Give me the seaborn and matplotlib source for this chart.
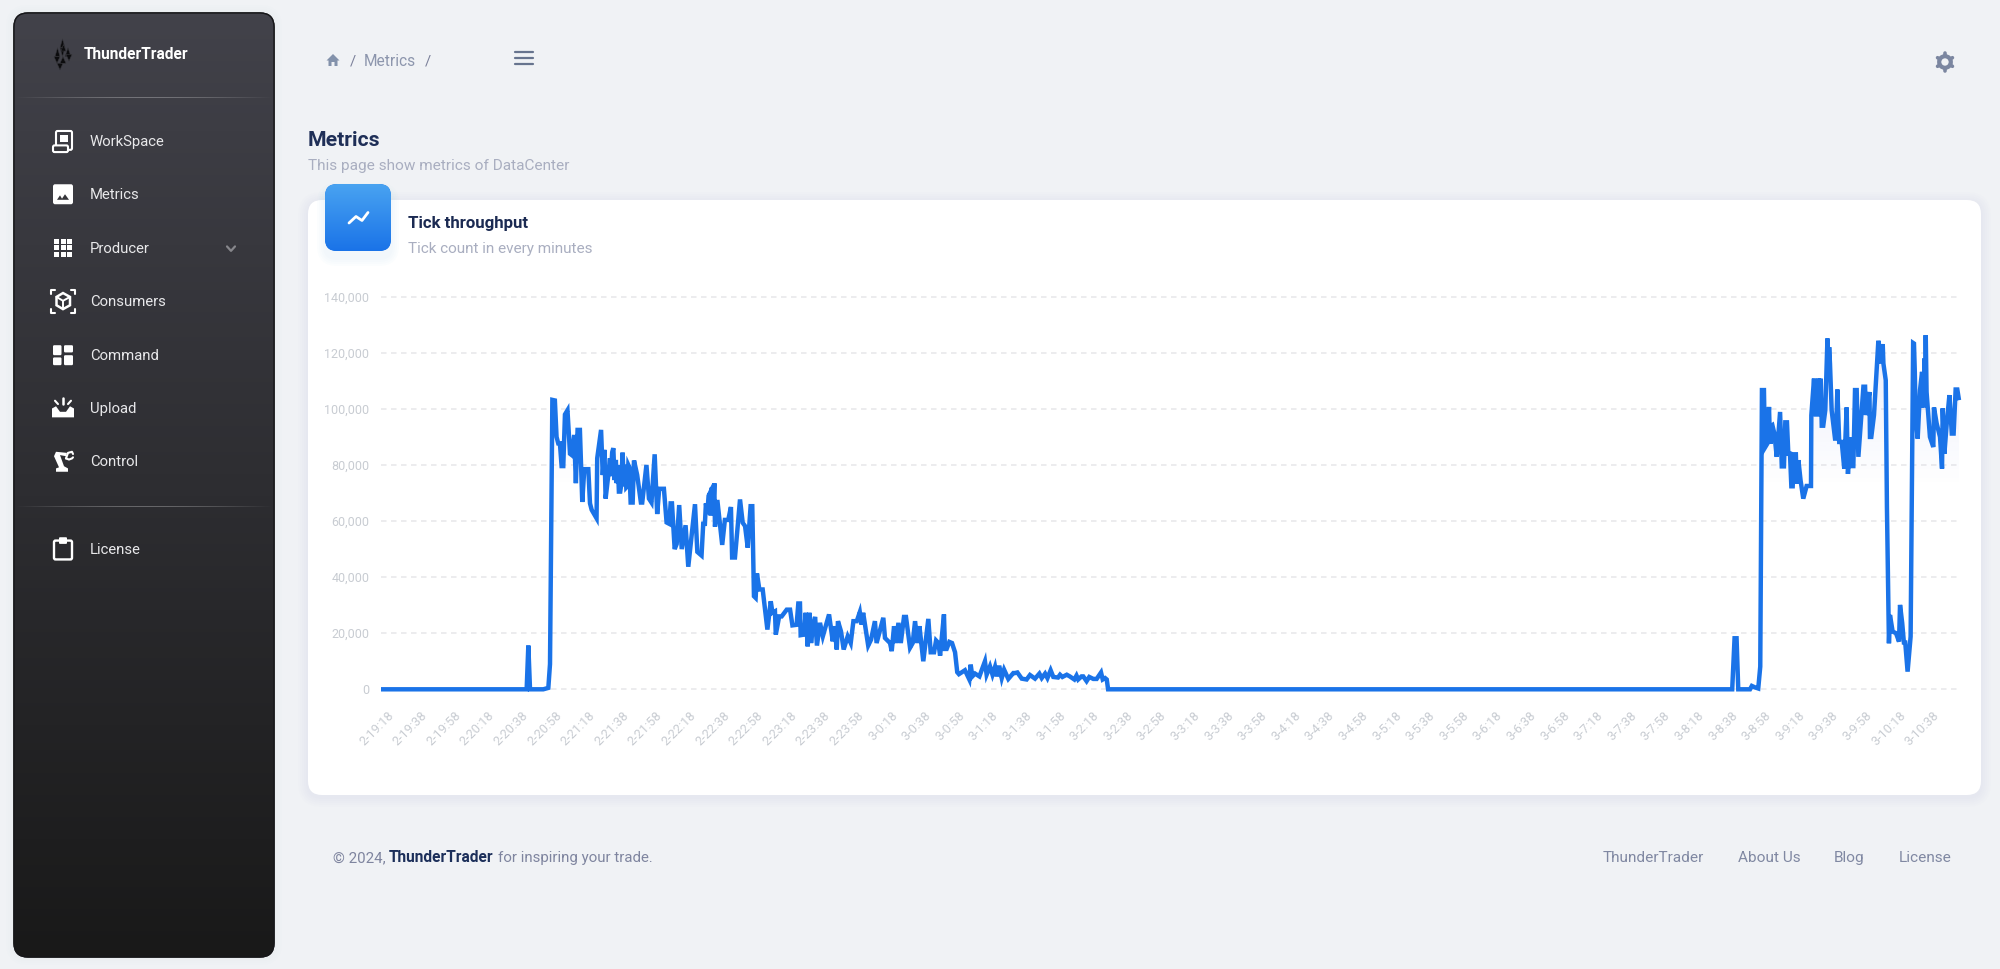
import seaborn as sns
import pandas as pd
import numpy as np
import matplotlib.pyplot as plt
from matplotlib.patches import FancyBboxPatch, Polygon, Circle, Rectangle
from matplotlib.colors import LinearSegmentedColormap
from matplotlib.ticker import FuncFormatter
from matplotlib.transforms import ScaledTranslation

# minutes since the first label
minutes = [0, 86.7, 87.7, 88.7, 96.6, 99.6, 100.6, 102, 103.5, 104.5, 105.5, 106.5, 107.5, 108.5, 109.5, 111, 112.5,
           113.6, 115, 116, 117, 118.4, 119.8, 121, 123.4, 124.4, 125.4, 128.3, 128.7, 131, 132, 133, 133.7, 135.3,
           136.3, 138.3, 139, 139.8, 141.6, 142.4, 143.8, 144.6, 145.4, 146.6, 147.8, 148.6, 149.8, 150.6, 152.5,
           153.7, 154.7, 155.5, 158, 159.5, 161, 162.9, 164.4, 165.6, 168.4, 170, 171.6, 172.4, 173.2, 174.8, 176,
           177.5, 179, 181.3, 182.9, 186.9, 188.3, 190.8, 191.8, 192.8, 193.4, 195.8, 196.2, 198.4, 198.8, 200.2,
           203.1, 204.7, 206.7, 208.3, 209, 210.7, 213.7, 215.3, 216.7, 218.3, 220, 221, 222, 223, 223.8, 225.2,
           227.2, 230, 232, 233, 234.5, 235, 237, 238.5, 241.5, 243.5, 244.9, 247.4, 248.4, 249.4, 249.8, 251.8,
           252.8, 254, 255, 256, 257.4, 258.4, 259.5, 261.3, 263, 264.7, 266.7, 268.9, 269.9, 271.3, 272, 273.8,
           275.4, 277.8, 279.6, 281.2, 283.2, 285, 286, 287, 290, 291.7, 294, 295, 296.6, 299, 300, 303, 304, 305.4,
           306.6, 308, 309.4, 311.3, 312.5, 314.9, 316.5, 317.9, 319.3, 320.5, 322.8, 325.8, 327.2, 329.2, 330.4,
           331.8, 332.8, 335.1, 335.7, 336.7, 338.3, 339.9, 341.7, 343, 344, 347.6, 350.2, 351, 352, 353.6, 356.2,
           359.5, 360.5, 362.5, 364, 365.5, 366.5, 368, 369.5, 370.9, 373.4, 376.4, 377.4, 378.8, 381.4, 384.3,
           386.3, 389.3, 391.9, 393.3, 395.3, 396.7, 398.6, 400.2, 403, 404.2, 405.6, 408.2, 410, 412.7, 414, 415,
           417, 418, 420, 421.6, 424, 426, 427, 428.6, 429.6, 431, 432, 432.8, 804.3, 805.7, 806.9, 807.9, 814.9,
           816, 817.8, 819.8, 821, 822, 823.2, 824, 825.2, 826.2, 827.2, 828.2, 829.4, 830.8, 832.8, 833.8, 835.1,
           835.9, 836.9, 837.7, 838.7, 839.5, 840.3, 841.1, 842.2, 842.7, 843.7, 845, 846.6, 848.6, 851.2, 851.4,
           853, 854, 855, 855.6, 857, 857.6, 858.5, 859.7, 861, 862.5, 863.5, 865.5, 866, 866.9, 868, 869.5, 871,
           872.4, 873.2, 874.4, 875.2, 876.4, 877.4, 878.4, 879.4, 882.4, 883.4, 883.8, 886, 886.3, 887.1, 888.7,
           891.3, 892.7, 893.9, 894.3, 895.7, 896.4, 897.6, 898.2, 899.8, 901.8, 903.6, 904.2, 905.5, 906.5, 907.3,
           908.7, 910.5, 912, 912.5, 913.5, 914.7, 916.1, 917.3, 918.3, 919.5, 920, 922, 924, 924.4, 926, 928, 929.2,
           929.6, 930.6, 932, 933.6, 935, 936.1, 937.3, 938.3, 939.3]

tick_count = [0, 0, 15600, 0, 0, 500, 9000, 103200, 103000, 90000, 87700, 87700, 79600, 79600, 98000, 99500, 84000,
              83500, 90700, 73500, 92500, 92500, 66800, 78500, 78500, 66300, 64000, 61000, 82400, 92500, 76400, 85400,
              68000, 76400, 82400, 86000, 74600, 81800, 70500, 70500, 84400, 72400, 79200, 72400, 79200, 66600, 66600,
              81600, 76400, 71000, 66600, 66600, 80000, 68000, 66600, 83800, 62500, 71500, 71500, 59500, 59000, 66300,
              66300, 50000, 51800, 65700, 50000, 58500, 43700, 66000, 49000, 47700, 59000, 59000, 66300, 70000, 62000,
              73500, 58000, 67500, 51500, 60400, 60400, 65000, 47000, 47000, 67700, 59400, 58200, 50500, 65300, 65300,
              33200, 32600, 41300, 35600, 35600, 21300, 31400, 27300, 27800, 19500, 26000, 26000, 28400, 28400, 22800,
              23000, 30600, 30600, 19300, 19500, 27300, 15300, 27300, 16500, 23700, 25800, 15600, 23700, 18900, 22500,
              26700, 17100, 22500, 14200, 24300, 20700, 14200, 18900, 16500, 24300, 24300, 27500, 23100, 27300, 15600,
              17700, 24300, 16500, 20100, 25500, 18300, 16500, 13600, 22500, 16500, 23700, 16500, 25800, 25800, 14800,
              16500, 24300, 16500, 22500, 10000, 25100, 13200, 13200, 17400, 16500, 12000, 26700, 14400, 14400, 16900,
              16500, 13200, 6100, 5400, 6800, 3500, 8800, 4600, 5600, 4600, 10000, 5200, 8200, 5200, 8000, 4600, 8400,
              4000, 7000, 3700, 5800, 5800, 6000, 3800, 3500, 5100, 3800, 5600, 4000, 5600, 4000, 6800, 4400, 4200,
              5200, 4400, 5200, 4600, 3500, 4900, 3500, 4600, 4600, 2900, 4400, 3700, 3700, 4600, 6000, 3500, 4000,
              3500, 0, 0, 18200, 18200, 0, 0, 1200, 700, 300, 8100, 106700, 106700, 86400, 87600, 100700, 87600, 94200,
              91200, 82900, 98900, 79500, 79500, 95200, 95200, 84000, 84000, 72400, 72400, 83800, 83800, 73300, 81700,
              74500, 68000, 72500, 72500, 97700, 110800, 98000, 98000, 110800, 110800, 94000, 94000, 99500, 125100,
              116200, 99500, 89400, 89400, 106900, 88200, 88200, 78700, 100500, 76800, 89900, 79600, 79600, 106700,
              106700, 82900, 107900, 107900, 97800, 106000, 90000, 90000, 97800, 124300, 116200, 123100, 116200, 110200,
              65000, 16400, 26500, 20600, 20000, 17000, 30100, 23600, 16700, 16700, 6300, 18800, 123500, 123300, 97100,
              89400, 106700, 113200, 100500, 126300, 106000, 90000, 86400, 100500, 94800, 90000, 78700, 100200, 84000,
              94800, 104900, 91200, 91200, 106900, 106900, 103100]

# vertices inside the parts where the line looks like a solid block
block_minutes = [136.8, 137.6, 140.3, 141, 143, 145, 146, 147.2, 194.2, 195, 197, 197.6, 823.6, 826.7, 827.7, 853.5,
                 855.3, 856.3, 856.7, 861.6, 862, 913, 917.8, 918.1, 918.8, 919.1]
block_count = [76000, 84500, 73500, 80000, 73000, 80000, 72000, 80000, 62500, 69000, 72000, 62500, 92000, 90000, 94000,
               101000, 100000, 98000, 110000, 110000, 122000, 113000, 110000, 101000, 118000, 104000]

tick_labels = ['2-19:18', '2-19:38', '2-19:58', '2-20:18', '2-20:38', '2-20:58', '2-21:18', '2-21:38', '2-21:58',
               '2-22:18', '2-22:38', '2-22:58', '2-23:18', '2-23:38', '2-23:58', '3-0:18', '3-0:38', '3-0:58',
               '3-1:18', '3-1:38', '3-1:58', '3-2:18', '3-2:38', '3-2:58', '3-3:18', '3-3:38', '3-3:58', '3-4:18',
               '3-4:38', '3-4:58', '3-5:18', '3-5:38', '3-5:58', '3-6:18', '3-6:38', '3-6:58', '3-7:18', '3-7:38',
               '3-7:58', '3-8:18', '3-8:38', '3-8:58', '3-9:18', '3-9:38', '3-9:58', '3-10:18', '3-10:38']
tick_minutes = [i * 20 for i in range(len(tick_labels))]

menu_items = ['WorkSpace', 'Metrics', 'Producer', 'Consumers', 'Command', 'Upload', 'Control', 'License']
menu_y = [140.5, 194, 247.5, 301, 354.5, 408, 461, 549]
footer_links = ['ThunderTrader', 'About Us', 'Blog', 'License']
footer_x = [1603, 1738, 1834, 1899]

W, H = 2000, 969
BLUE = '#1A73E8'
sns.set_theme(style='white')
plt.rcParams['font.family'] = ['Roboto', 'DejaVu Sans']
plt.rcParams['patch.force_edgecolor'] = False

fig = plt.figure(figsize=(W / 100, H / 100), dpi=100, facecolor='#f0f2f5')
bg = fig.add_axes([0, 0, 1, 1], zorder=0)
bg.set_xlim(0, W)
bg.set_ylim(H, 0)
bg.axis('off')
ic = fig.add_axes([0, 0, 1, 1], zorder=1)
ic.set_xlim(0, W)
ic.set_ylim(H / 1.11, 0)
ic.axis('off')
ic.patch.set_alpha(0)


def rounded(x0, y0, x1, y1, r, target=None, **kw):
    p = FancyBboxPatch((x0 + r, y0 + r), x1 - x0 - 2 * r, y1 - y0 - 2 * r,
                       boxstyle='round,pad=%f,rounding_size=%f' % (r, r), mutation_aspect=1, **kw)
    (target or bg).add_patch(p)
    return p


def vgrad(patch, extent, top, bottom):
    cm = LinearSegmentedColormap.from_list('g', [top, bottom])
    im = bg.imshow(np.linspace(0, 1, 256)[:, None], extent=extent, cmap=cm, aspect='auto', zorder=patch.get_zorder())
    im.set_clip_path(patch)
    bg.set_xlim(0, W)
    bg.set_ylim(H, 0)


def shadow(x0, y0, x1, y1, r, color, spread, alpha, dy=0, z=1):
    for s in range(spread, 0, -2):
        rounded(x0 - s, y0 - s + dy, x1 + s, y1 + s + dy, r + s, fc=color, ec='none', alpha=alpha, zorder=z)


def label(x, y, s, size, color, weight='normal', ha='left'):
    # y is the middle of the capitals
    bg.text(x, y + size * 0.49, s, fontsize=size, color=color, fontweight=weight, ha=ha, va='baseline', zorder=10)


# sidebar
shadow(14, 13, 274, 957, 14, '#9aa0aa', 8, 0.012, z=1)
side = rounded(14, 13, 274, 957, 14, fc='#2a2a2e', ec='#101012', lw=1, zorder=2)
vgrad(side, [14, 274, 957, 13], '#42424a', '#191919')
rounded(14, 13, 274, 957, 14, fc='none', ec='#17171a', lw=1, zorder=3)
for sep_y in [97, 506]:
    rgba = np.zeros((1, 256, 4))
    rgba[..., :3] = 1
    rgba[..., 3] = 0.28 * np.sin(np.linspace(0, np.pi, 256))
    bg.imshow(rgba, extent=[14, 274, sep_y + 1, sep_y], aspect='auto', zorder=4)
bg.set_xlim(0, W)
bg.set_ylim(H, 0)

# logo triangles
logo = [(60, 35, 65, 43, 1), (55, 43, 60, 51, 1), (60, 43, 65, 51, -1), (65, 43, 71, 51, 1), (54, 51, 60, 57, -1),
        (60, 51, 66, 57, 1), (66, 49, 72, 55, -1), (57, 57, 63, 63, -1), (61, 40, 66, 46, 1)]
for x0, y0, x1, y1, d in logo:
    pts = [(x0, y1), (x1, y1), ((x0 + x1) / 2, y0)] if d > 0 else [(x0, y0), (x1, y0), ((x0 + x1) / 2, y1)]
    ic.add_patch(Polygon(pts, fc='#0c0c0e', ec='#36363b', lw=0.4, zorder=5))
label(84, 53.5, 'ThunderTrader', 11.2, 'white', 'bold')

for name, y in zip(menu_items, menu_y):
    label(90, y, name, 10.7, '#e8e8ea', 'normal')

WH = 'white'
# workspace
rounded(56, 118, 72, 135, 1.5, target=ic, fc='none', ec=WH, lw=1.5, zorder=5)
rounded(53, 131, 68, 137, 1.5, target=ic, fc='#39393e', ec=WH, lw=1.5, zorder=5)
ic.add_patch(Rectangle((60, 122), 8, 6, fc=WH, zorder=5))
# metrics picture
rounded(53, 166, 73, 184, 2, target=ic, fc=WH, ec='none', zorder=5)
ic.add_patch(Polygon([(57, 180), (60, 176), (62, 179), (65, 175), (69, 180)], fc='#35353a', zorder=6))
# producer grid
for gx in [54, 60.5, 67]:
    for gy in [215, 221, 227]:
        ic.add_patch(Rectangle((gx, gy), 5, 4.4, fc=WH, zorder=5))
ic.plot([227, 231, 235], [222, 226, 222], color='#87878c', lw=1.6, zorder=5)
# consumers cube
for cx, cy, sx, sy in [(51, 261, 1, 1), (75, 261, -1, 1), (51, 282, 1, -1), (75, 282, -1, -1)]:
    ic.plot([cx, cx, cx + 4 * sx], [cy + 4 * sy, cy, cy], color=WH, lw=1.5, zorder=5)
hexa = [(63, 264), (70, 267.5), (70, 275), (63, 278.5), (56.5, 275), (56.5, 267.5)]
ic.add_patch(Polygon(hexa, fc='none', ec=WH, lw=1.8, zorder=5))
ic.plot([56.5, 63, 70], [267.5, 271, 267.5], color=WH, lw=1.4, zorder=5)
ic.plot([63, 63], [271, 278.5], color=WH, lw=1.4, zorder=5)
# command blocks
rounded(53, 311, 61.5, 320, 1.2, target=ic, fc=WH, ec='none', zorder=5)
rounded(53, 322, 61.5, 329, 1.2, target=ic, fc=WH, ec='none', zorder=5)
rounded(64, 311, 73, 317.5, 1.2, target=ic, fc=WH, ec='none', zorder=5)
rounded(64, 320, 73, 329, 1.2, target=ic, fc=WH, ec='none', zorder=5)
# upload tray
ic.add_patch(Polygon([(52, 376), (52, 368), (56, 366), (60, 371), (66, 371), (70, 366), (74, 368), (74, 376)], fc=WH, zorder=5))
ic.plot([63, 63], [359, 364], color=WH, lw=1.8, zorder=5)
ic.plot([55, 58], [361, 364], color=WH, lw=1.5, zorder=5)
ic.plot([71, 68], [361, 364], color=WH, lw=1.5, zorder=5)
# control robot arm
ic.add_patch(Polygon([(56, 425), (68, 425), (68, 422), (64, 420), (60, 410), (66, 411), (67, 408), (56, 407), (54, 411), (59, 421), (56, 422)], fc=WH, zorder=5))
ic.plot([66, 68, 72, 73], [413, 408, 407, 409], color=WH, lw=1.5, zorder=5)
ic.plot([66, 69, 72, 73], [413, 414, 413, 412], color=WH, lw=1.5, zorder=5)
# license clipboard
rounded(54, 487, 72, 504, 1.5, target=ic, fc='none', ec=WH, lw=1.7, zorder=5)
rounded(59, 484, 67, 490, 1, target=ic, fc=WH, ec='none', zorder=5)

# breadcrumb row
bg.add_patch(Polygon([(326.5, 60.5), (333, 54), (339.5, 60.5), (337.5, 60.5), (337.5, 66), (334.5, 66), (334.5, 62), (331.5, 62), (331.5, 66), (328.5, 66), (328.5, 60.5)], fc='#8392ab', zorder=5))
label(350, 60.5, '/', 10.8, '#7b809a')
label(364, 60.5, 'Metrics', 11.2, '#8d96ad')
label(425, 60.5, '/', 10.8, '#7b809a')
for hy in [52, 58, 64]:
    bg.plot([515, 533], [hy, hy], color='#67748e', lw=1.6, solid_capstyle='round', zorder=5)
bg.add_patch(Circle((1945, 62), 5.8, fc='none', ec='#7b86a0', lw=3, zorder=5))
for a in np.arange(0, 2 * np.pi, np.pi / 3):
    bg.plot([1945 + 6 * np.cos(a + np.pi / 6), 1945 + 8.6 * np.cos(a + np.pi / 6)],
            [62 + 6 * np.sin(a + np.pi / 6), 62 + 8.6 * np.sin(a + np.pi / 6)], color='#7b86a0', lw=2.6, zorder=5)

label(308, 139, 'Metrics', 15.2, '#1f2f57', 'bold')
label(308, 164.5, 'This page show metrics of DataCenter', 11.05, '#a9aec0')

# card
shadow(308, 200, 1981, 795, 14, '#8a90a0', 10, 0.012, dy=2, z=1)
rounded(308, 200, 1981, 795, 14, fc='white', ec='none', zorder=2)
shadow(325, 184, 391, 251, 12, '#3fb6d8', 8, 0.014, dy=7, z=3)
tile = rounded(325, 184, 391, 251, 12, fc=BLUE, ec='none', zorder=4)
vgrad(tile, [325, 391, 251, 184], '#49a3f1', BLUE)
bg.plot([349, 356, 362, 368], [223, 216.5, 220.5, 212.5], color='white', lw=2, zorder=6, solid_capstyle='round')
label(408.5, 222.5, 'Tick throughput', 12.1, '#1b2a52', 'bold')
label(408.5, 247.5, 'Tick count in every minutes', 11, '#a9aec0')

# footer
label(333, 857, '© 2024,', 10.9, '#7f859f')
label(389, 857, 'ThunderTrader', 11.2, '#1c2f5a', 'bold')
label(498, 857, 'for inspiring your trade.', 10.8, '#7f859f')
for name, x in zip(footer_links, footer_x):
    label(x, 857, name, 11.05, '#8088a2')

# chart
df = pd.DataFrame({'minute': minutes + block_minutes, 'count': tick_count + block_count}).sort_values('minute')
ax = fig.add_axes([381 / W, 1 - 689.3 / H, (1959 - 381) / W, 392.6 / H], zorder=5)
ax.patch.set_alpha(0)
poly = ax.fill_between(df['minute'], df['count'], color='none')
fill = np.zeros((256, 2, 4))
fill[..., :3] = np.array([94, 114, 228]) / 255
level = np.linspace(140000, 0, 256)
fill[..., 3] = (np.clip((level - 72000) / 53000, 0, 1) * 0.13)[:, None]
im = ax.imshow(fill, extent=[0, 939.3, 0, 140000], aspect='auto', zorder=1)
im.set_clip_path(poly.get_paths()[0], transform=ax.transData)

sns.lineplot(data=df, x='minute', y='count', estimator=None, sort=False, color=BLUE, linewidth=3.2, ax=ax, zorder=3,
             clip_on=False, solid_joinstyle='miter', solid_capstyle='butt')
ax.set_xlim(0, 939.3)
ax.set_ylim(0, 140000)
ax.set_xlabel('')
ax.set_ylabel('')
sns.despine(ax=ax, left=True, bottom=True)
ax.set_yticks(range(0, 140001, 20000))
ax.yaxis.set_major_formatter(FuncFormatter(lambda v, _: f'{int(v):,}'))
ax.set_xticks(tick_minutes)
ax.set_xticklabels(tick_labels, rotation=45, ha='right', va='top', rotation_mode='anchor')
ax.tick_params(axis='x', length=0, pad=14, labelsize=9.2, labelcolor='#c8ccd2')
ax.tick_params(axis='y', length=0, pad=8.5, labelsize=9, labelcolor='#c8ccd2')
shift = ScaledTranslation(6 / 100, 0, fig.dpi_scale_trans)
for lab in ax.get_xticklabels():
    lab.set_transform(lab.get_transform() + shift)
ax.set_axisbelow(True)
ax.grid(axis='y', color='#ececee', linewidth=1.44, linestyle=(0, (2.75, 2.25)))
ax.grid(axis='x', visible=False)
for gl in ax.get_ygridlines():
    gl.set_clip_on(False)

fig.savefig('out.png', dpi=100, facecolor=fig.get_facecolor())
